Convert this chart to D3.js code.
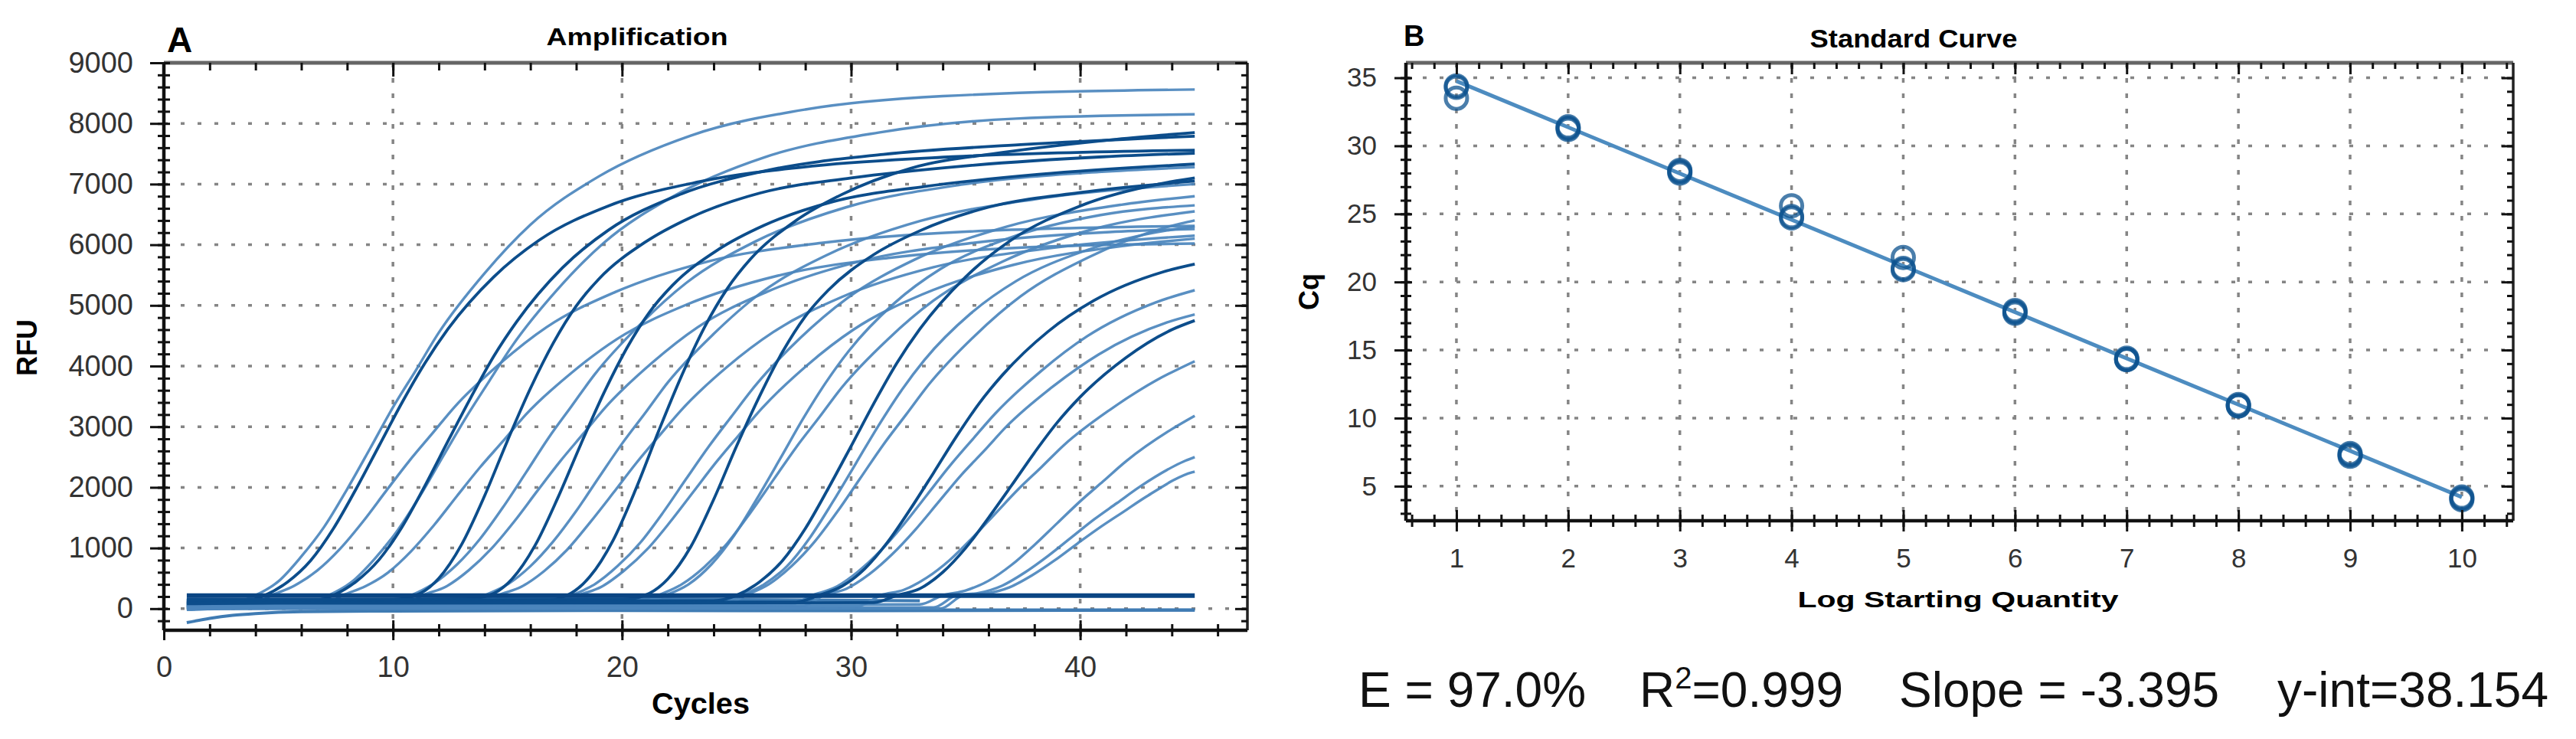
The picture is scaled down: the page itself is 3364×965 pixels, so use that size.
<!DOCTYPE html>
<html>
<head>
<meta charset="utf-8">
<script src="https://cdn.jsdelivr.net/npm/d3@7"></script>
<style>
  body { margin: 0; background: #fff; }
  text { font-family: "Liberation Sans", Arial, sans-serif; }
</style>
</head>
<body>
<script>
const width = 3364;
const height = 965;

// ---------- A: amplification data (cycle, RFU) ----------
const ampCycleTicks = [0, 10, 20, 30, 40];
const ampRfuTicks = [0, 1000, 2000, 3000, 4000, 5000, 6000, 7000, 8000, 9000];

const thresholdLine = [[1, 215], [45, 215]];

const ntcLines = [
  [[1, -230], [2, -160], [3, -110], [4, -80], [6, -50], [10, -40], [20, -30], [30, -35], [45, -25]],
  [[1, 20], [10, -10], [20, 10], [30, -20], [45, -20]],
  [[1, 160], [8, 140], [16, 170], [25, 150], [33, 130]]
];

const darkCurves = [
  [[1,100],[3.4,120],[4.4,220],[5.4,440],[6.4,790],[7.4,1320],[8.4,1980],[9.4,2690],[10.4,3400],[11.4,4050],[12.4,4610],[14.4,5470],[16.4,6080],[19.4,6640],[23.4,7040],[28.4,7300],[34.4,7450],[45,7560]],
  [[1,80],[6.4,110],[7.4,220],[8.4,450],[9.4,810],[10.4,1350],[11.4,2030],[12.4,2760],[13.4,3480],[14.4,4160],[15.4,4730],[17.4,5620],[19.4,6240],[22.4,6810],[26.4,7230],[31.4,7490],[37.4,7650],[45,7790]],
  [[1,130],[10,150],[11,220],[12,500],[13,1060],[14,1860],[15,2770],[16,3630],[17,4380],[18,4990],[19,5440],[21,6040],[23,6450],[26,6850],[30,7100],[35,7300],[41,7450],[45,7510]],
  [[1,150],[13.2,160],[14.2,220],[15.2,490],[16.2,1040],[17.2,1830],[18.2,2710],[19.2,3550],[20.2,4290],[21.2,4890],[22.2,5330],[24.2,5920],[26.2,6320],[29.2,6710],[33.2,6960],[38.2,7160],[45,7330]],
  [[1,110],[16.6,130],[17.6,220],[18.6,530],[19.6,1120],[20.6,1970],[21.6,2930],[22.6,3840],[23.6,4640],[24.6,5280],[25.6,5760],[27.6,6400],[29.6,6830],[32.6,7260],[36.6,7520],[41.6,7740],[45,7850]],
  [[1,140],[20,150],[21,220],[22,490],[23,1020],[24,1800],[25,2680],[26,3500],[27,4230],[28,4820],[29,5250],[31,5840],[33,6230],[36,6620],[40,6860],[45,7050]],
  [[1,120],[24,130],[25,220],[26,440],[27,790],[28,1320],[29,1980],[30,2680],[31,3390],[32,4050],[33,4610],[35,5470],[37,6080],[40,6640],[44,7040],[45,7100]],
  [[1,100],[27.6,110],[28.6,220],[29.6,370],[30.6,660],[31.6,1100],[32.6,1650],[33.6,2240],[34.6,2840],[35.6,3390],[36.6,3850],[38.6,4570],[40.6,5080],[43.6,5550],[45,5680]],
  [[1,90],[31,100],[32,220],[33,330],[34,600],[35,1000],[36,1500],[37,2030],[38,2570],[39,3070],[40,3490],[42,4140],[44,4600],[45,4750]]
];

const lightCurves = [
  [[1,60],[3,90],[4,220],[5,450],[6,860],[7,1350],[8,1970],[9,2640],[10,3320],[11,3930],[12,4550],[14,5530],[16,6330],[19,7130],[23,7800],[28,8230],[34,8450],[45,8560]],
  [[1,-20],[3.7,40],[4.7,220],[5.7,380],[6.7,630],[7.7,990],[8.7,1440],[9.7,1940],[10.7,2430],[11.7,2880],[12.7,3330],[14.7,4050],[16.7,4640],[19.7,5220],[23.7,5720],[28.7,6030],[34.7,6210],[45,6310]],
  [[1,40],[6.2,70],[7.2,220],[8.2,440],[9.2,820],[10.2,1290],[11.2,1870],[12.2,2520],[13.2,3160],[14.2,3750],[15.2,4330],[17.2,5270],[19.2,6030],[22.2,6790],[26.2,7440],[31.2,7850],[37.2,8080],[45,8150]],
  [[1,10],[6.8,30],[7.8,220],[8.8,370],[9.8,600],[10.8,950],[11.8,1380],[12.8,1860],[13.8,2330],[14.8,2760],[15.8,3200],[17.8,3890],[19.8,4450],[22.8,5010],[26.8,5490],[31.8,5790],[37.8,5960],[45,6020]],
  [[1,70],[9.8,90],[10.8,220],[11.8,420],[12.8,730],[13.8,1150],[14.8,1670],[15.8,2240],[16.8,2820],[17.8,3340],[18.8,3860],[20.8,4690],[22.8,5370],[25.8,6050],[29.8,6620],[34.8,6990],[40.8,7200],[45,7280]],
  [[1,-10],[10.3,20],[11.3,220],[12.3,360],[13.3,630],[14.3,990],[15.3,1440],[16.3,1940],[17.3,2430],[18.3,2880],[19.3,3330],[21.3,4050],[23.3,4640],[26.3,5220],[30.3,5720],[35.3,6030],[41.3,6210],[45,6260]],
  [[1,50],[13,70],[14,220],[15,400],[16,700],[17,1110],[18,1610],[19,2170],[20,2720],[21,3220],[22,3730],[24,4530],[26,5190],[29,5840],[33,6390],[38,6750],[45,7000]],
  [[1,0],[13.6,20],[14.6,220],[15.6,360],[16.6,620],[17.6,970],[18.6,1420],[19.6,1900],[20.6,2390],[21.6,2840],[22.6,3280],[24.6,3990],[26.6,4560],[29.6,5140],[33.6,5630],[38.6,5940],[45,6150]],
  [[1,60],[16.8,80],[17.8,220],[18.8,400],[19.8,700],[20.8,1090],[21.8,1590],[22.8,2140],[23.8,2680],[24.8,3180],[25.8,3670],[27.8,4470],[29.8,5110],[32.8,5760],[36.8,6300],[41.8,6660],[45,6800]],
  [[1,20],[17.1,40],[18.1,220],[19.1,360],[20.1,630],[21.1,980],[22.1,1430],[23.1,1920],[24.1,2410],[25.1,2860],[26.1,3300],[28.1,4020],[30.1,4600],[33.1,5180],[37.1,5670],[42.1,5990],[45,6100]],
  [[1,30],[20.6,50],[21.6,220],[22.6,400],[23.6,690],[24.6,1080],[25.6,1580],[26.6,2120],[27.6,2660],[28.6,3150],[29.6,3650],[31.6,4440],[33.6,5080],[36.6,5720],[40.6,6260],[45,6550]],
  [[1,90],[20.9,100],[21.9,220],[22.9,400],[23.9,730],[24.9,1210],[25.9,1820],[26.9,2470],[27.9,3130],[28.9,3730],[29.9,4250],[31.9,5040],[33.9,5600],[36.9,6110],[40.9,6490],[45,6650]],
  [[1,40],[24.4,60],[25.4,220],[26.4,400],[27.4,700],[28.4,1100],[29.4,1600],[30.4,2150],[31.4,2700],[32.4,3200],[33.4,3700],[35.4,4500],[37.4,5150],[40.4,5800],[44.4,6350],[45,6400]],
  [[1,70],[24.2,90],[25.2,220],[26.2,400],[27.2,700],[28.2,1170],[29.2,1760],[30.2,2390],[31.2,3020],[32.2,3600],[33.2,4100],[35.2,4860],[37.2,5400],[40.2,5900],[44.2,6260],[45,6300]],
  [[1,60],[27.3,60],[28.3,220],[29.3,350],[30.3,610],[31.3,960],[32.3,1390],[33.3,1870],[34.3,2350],[35.3,2790],[36.3,3220],[38.3,3920],[40.3,4490],[43.3,5050],[45,5250]],
  [[1,30],[27.8,30],[28.8,220],[29.8,330],[30.8,570],[31.8,900],[32.8,1300],[33.8,1750],[34.8,2200],[35.8,2600],[36.8,3010],[38.8,3660],[40.8,4190],[43.8,4720],[45,4850]],
  [[1,40],[30.3,40],[31.3,220],[32.3,310],[33.3,510],[34.3,800],[35.3,1170],[36.3,1570],[37.3,1970],[38.3,2330],[39.3,2700],[41.3,3280],[43.3,3760],[45,4080]],
  [[1,50],[33,70],[34,220],[35,300],[36,460],[37,720],[38,1050],[39,1410],[40,1770],[41,2100],[42,2430],[44,2960],[45,3180]],
  [[1,20],[33.6,20],[34.6,220],[35.6,260],[36.6,380],[37.6,600],[38.6,870],[39.6,1170],[40.6,1470],[41.6,1740],[42.6,2010],[44.6,2440],[45,2500]],
  [[1,0],[33.9,0],[34.9,220],[35.9,250],[36.9,350],[37.9,550],[38.9,800],[39.9,1080],[40.9,1350],[41.9,1600],[42.9,1850],[44.9,2250],[45,2260]]
];

// ---------- B: standard curve data ----------
const logQty = [1, 2, 3, 4, 5, 6, 7, 8, 9, 10];
const cqReps = [
  [34.4, 33.5, 34.3],
  [31.3, 31.2, 31.4],
  [28.0, 28.1, 28.2],
  [25.6, 24.7, 24.8],
  [21.8, 20.9, 21.0],
  [17.7, 17.8, 17.9],
  [14.3, 14.3, 14.4],
  [10.9, 11.0, 10.9],
  [7.2, 7.3, 7.4],
  [4.0, 4.1, 4.2]
];
const fitLine = [[1, 34.76], [10, 4.20]];
const cqTicks = [5, 10, 15, 20, 25, 30, 35];
const statLabels = ["E = 97.0%", "R", "=0.999", "Slope = -3.395", "y-int=38.154"];

// ---------- setup ----------
const svg = d3.select("body").append("svg")
  .attr("width", width)
  .attr("height", height);

const ampX = d3.scaleLinear().domain([0, 47.3]).range([214, 1629]);
const ampY = d3.scaleLinear().domain([-356, 9000]).range([823, 82]);
const stdX = d3.scaleLinear().domain([0.548, 10.46]).range([1836, 3282]);
const stdY = d3.scaleLinear().domain([2.46, 36.1]).range([680, 82]);

function grid(x, y, hVals, vVals) {
  const g = svg.append("g");
  g.selectAll(".h").data(hVals).enter().append("line")
    .attr("x1", x.range()[0]).attr("x2", x.range()[1])
    .attr("y1", d => y(d)).attr("y2", d => y(d))
    .attr("stroke", "#858585").attr("stroke-width", 3.5)
    .attr("stroke-dasharray", "5 17");
  g.selectAll(".v").data(vVals).enter().append("line")
    .attr("x1", d => x(d)).attr("x2", d => x(d))
    .attr("y1", y.range()[1]).attr("y2", y.range()[0])
    .attr("stroke", "#858585").attr("stroke-width", 3.5)
    .attr("stroke-dasharray", "6 14");
}

function ticks(axis, tx, ty, values, size) {
  svg.append("g")
    .attr("transform", `translate(${tx},${ty})`)
    .call(axis.tickValues(values).tickSizeInner(size).tickSizeOuter(0).tickFormat(""))
    .call(a => a.select(".domain").remove())
    .call(a => a.selectAll("line").attr("stroke", "#111").attr("stroke-width", 3));
}

function labels(axis, tx, ty, values, pad, size) {
  svg.append("g")
    .attr("transform", `translate(${tx},${ty})`)
    .call(axis.tickValues(values).tickSize(0).tickPadding(pad).tickFormat(d3.format("d")))
    .call(a => a.select(".domain").remove())
    .call(a => a.selectAll("text")
      .style("font-family", '"Liberation Sans", Arial, sans-serif')
      .style("font-size", size + "px")
      .attr("fill", "#333"));
}

function frame(x, y) {
  const [l, r] = x.range();
  const [b, t] = y.range();
  svg.append("line").attr("x1", l).attr("x2", r).attr("y1", t).attr("y2", t)
    .attr("stroke", "#666").attr("stroke-width", 5);
  svg.append("line").attr("x1", r).attr("x2", r).attr("y1", t).attr("y2", b)
    .attr("stroke", "#222").attr("stroke-width", 3.5);
  svg.append("line").attr("x1", l).attr("x2", r).attr("y1", b).attr("y2", b)
    .attr("stroke", "#111").attr("stroke-width", 4.5);
  svg.append("line").attr("x1", l).attr("x2", l).attr("y1", t).attr("y2", b)
    .attr("stroke", "#111").attr("stroke-width", 4.5);
}

// ---------- A ----------
grid(ampX, ampY, ampRfuTicks.slice(0, -1), ampCycleTicks.slice(1));

const ampLine = d3.line()
  .x(d => ampX(d[0]))
  .y(d => ampY(d[1]))
  .curve(d3.curveMonotoneX);

svg.append("g").selectAll("path").data(ntcLines).enter().append("path")
  .attr("d", ampLine).attr("fill", "none")
  .attr("stroke", "#3f7bb3").attr("stroke-width", 4);

svg.append("g").selectAll("path").data(lightCurves).enter().append("path")
  .attr("d", ampLine).attr("fill", "none")
  .attr("stroke", "#4b86bd").attr("stroke-opacity", 0.92).attr("stroke-width", 3.4);

svg.append("g").selectAll("path").data(darkCurves).enter().append("path")
  .attr("d", ampLine).attr("fill", "none")
  .attr("stroke", "#0c4d8b").attr("stroke-width", 3.8);

svg.append("path").datum(thresholdLine)
  .attr("d", ampLine).attr("fill", "none")
  .attr("stroke", "#0a4583").attr("stroke-width", 6);

frame(ampX, ampY);

const [aL, aR] = ampX.range();
const [aB, aT] = ampY.range();
ticks(d3.axisLeft(ampY), aL, 0, d3.range(-200, 9001, 200), 8);
ticks(d3.axisLeft(ampY), aL, 0, d3.range(-200, 9001, 200), -8);
ticks(d3.axisLeft(ampY), aL, 0, ampRfuTicks, 18);
ticks(d3.axisRight(ampY), aR, 0, d3.range(-200, 9001, 200), -8);
ticks(d3.axisRight(ampY), aR, 0, ampRfuTicks, -16);
ticks(d3.axisBottom(ampX), 0, aB, d3.range(0, 47, 2), 8);
ticks(d3.axisBottom(ampX), 0, aB, d3.range(0, 47, 2), -8);
ticks(d3.axisBottom(ampX), 0, aB, ampCycleTicks, 13);
ticks(d3.axisBottom(ampX), 0, aB, ampCycleTicks, -13);
ticks(d3.axisTop(ampX), 0, aT, d3.range(0, 47, 2), -10);
ticks(d3.axisTop(ampX), 0, aT, ampCycleTicks, -18);

labels(d3.axisLeft(ampY), aL, 0, ampRfuTicks, 40, 38);
labels(d3.axisBottom(ampX), 0, aB, ampCycleTicks, 34, 38);

svg.append("text").attr("x", 218).attr("y", 68)
  .attr("font-weight", "bold").attr("font-size", 46).text("A");
svg.append("text").attr("x", 832).attr("y", 59)
  .attr("text-anchor", "middle").attr("font-weight", "bold").attr("font-size", 32)
  .attr("textLength", 237).attr("lengthAdjust", "spacingAndGlyphs")
  .text("Amplification");
svg.append("text").attr("x", 915).attr("y", 932)
  .attr("text-anchor", "middle").attr("font-weight", "bold").attr("font-size", 38)
  .attr("textLength", 128).attr("lengthAdjust", "spacingAndGlyphs")
  .text("Cycles");
svg.append("text").attr("transform", "translate(48,454) rotate(-90)")
  .attr("text-anchor", "middle").attr("font-weight", "bold").attr("font-size", 36)
  .text("RFU");

// ---------- B ----------
grid(stdX, stdY, cqTicks, logQty);

svg.append("path").datum(fitLine)
  .attr("d", d3.line().x(d => stdX(d[0])).y(d => stdY(d[1])))
  .attr("fill", "none").attr("stroke", "#4d8cc0").attr("stroke-width", 5);

const pts = logQty.flatMap((q, i) => cqReps[i].map(c => [q, c]));
svg.append("g").selectAll("circle").data(pts).enter().append("circle")
  .attr("cx", d => stdX(d[0])).attr("cy", d => stdY(d[1])).attr("r", 14)
  .attr("fill", "none").attr("stroke", "#0d538f")
  .attr("stroke-opacity", 0.75).attr("stroke-width", 5);

frame(stdX, stdY);

const [bL, bR] = stdX.range();
const [bB, bT] = stdY.range();
const minorQ = d3.range(0.6, 10.45, 0.2);
const minorCq = d3.range(3, 36, 1);
ticks(d3.axisLeft(stdY), bL, 0, minorCq, 7);
ticks(d3.axisLeft(stdY), bL, 0, minorCq, -7);
ticks(d3.axisLeft(stdY), bL, 0, cqTicks, 15);
ticks(d3.axisLeft(stdY), bL, 0, cqTicks, -8);
ticks(d3.axisRight(stdY), bR, 0, minorCq, -8);
ticks(d3.axisRight(stdY), bR, 0, cqTicks, -15);
ticks(d3.axisBottom(stdX), 0, bB, minorQ, 8);
ticks(d3.axisBottom(stdX), 0, bB, minorQ, -8);
ticks(d3.axisBottom(stdX), 0, bB, logQty, 14);
ticks(d3.axisBottom(stdX), 0, bB, logQty, -14);
ticks(d3.axisTop(stdX), 0, bT, minorQ, -8);
ticks(d3.axisTop(stdX), 0, bT, logQty, -15);

labels(d3.axisLeft(stdY), bL, 0, cqTicks, 38, 35);
labels(d3.axisBottom(stdX), 0, bB, logQty, 36, 35);

svg.append("text").attr("x", 1833).attr("y", 60)
  .attr("font-weight", "bold").attr("font-size", 38).text("B");
svg.append("text").attr("x", 2499).attr("y", 62)
  .attr("text-anchor", "middle").attr("font-weight", "bold").attr("font-size", 34)
  .attr("textLength", 271).attr("lengthAdjust", "spacingAndGlyphs")
  .text("Standard Curve");
svg.append("text").attr("x", 2557).attr("y", 793)
  .attr("text-anchor", "middle").attr("font-weight", "bold").attr("font-size", 30)
  .attr("textLength", 419).attr("lengthAdjust", "spacingAndGlyphs")
  .text("Log Starting Quantity");
svg.append("text").attr("transform", "translate(1722,381) rotate(-90)")
  .attr("text-anchor", "middle").attr("font-weight", "bold").attr("font-size", 36)
  .text("Cq");

// statistics line under B
const stats = svg.append("g").attr("font-size", 64).attr("fill", "#111");
stats.append("text").attr("x", 1774).attr("y", 923).text(statLabels[0]);
const r2 = stats.append("text").attr("x", 2141).attr("y", 923);
r2.append("tspan").text(statLabels[1]);
r2.append("tspan").attr("font-size", 40).attr("dy", -24).text("2");
r2.append("tspan").attr("dy", 24).text(statLabels[2]);
stats.append("text").attr("x", 2480).attr("y", 923).text(statLabels[3]);
stats.append("text").attr("x", 2974).attr("y", 923).text(statLabels[4]);
</script>
</body>
</html>
